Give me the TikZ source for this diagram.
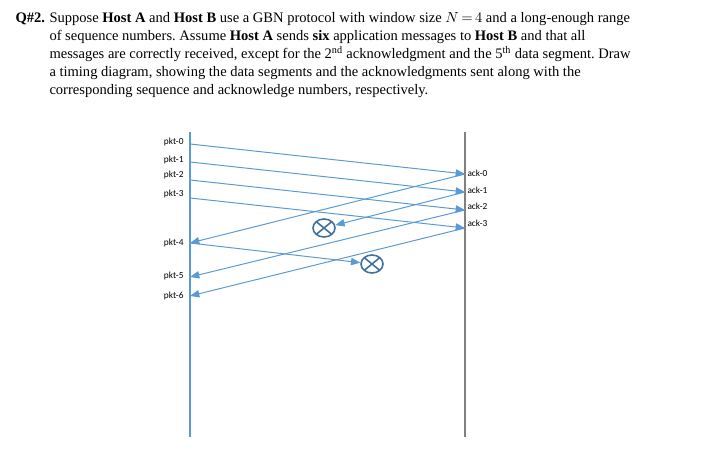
\documentclass[tikz,border=0pt]{standalone}
\usepackage{fontspec}
\setmainfont{Liberation Serif}
\newfontfamily\lblfont{Carlito}
\usetikzlibrary{arrows.meta,shapes.geometric}

\definecolor{linkblue}{RGB}{91,155,213}
\definecolor{lostblue}{RGB}{65,113,156}
\definecolor{hostgray}{RGB}{128,128,128}

\tikzset{every picture/.style={line width=0.75pt}}
\tikzset{
  seg/.style={draw=linkblue, line width=0.75pt, -{Triangle[length=7pt,width=5.5pt]}},
  pktlbl/.style={font=\lblfont\fontsize{7}{8}\selectfont, anchor=east, inner sep=0pt},
  acklbl/.style={font=\lblfont\fontsize{7}{8}\selectfont, anchor=west, inner sep=0pt},
  lost/.style={ellipse, draw=lostblue, line width=1.2pt, minimum width=16.5pt, minimum height=13.5pt, inner sep=0pt,
    path picture={\draw[lostblue, line width=1.2pt] (path picture bounding box.north west) -- (path picture bounding box.south east) (path picture bounding box.south west) -- (path picture bounding box.north east);}}
}

\begin{document}
\frenchspacing
\begin{tikzpicture}[x=0.75pt,y=0.75pt,yscale=-1,xscale=1]
\path[use as bounding box] (0,0) rectangle (726,459);

% Text Node
\node[anchor=north west, inner sep=0pt, font=\fontsize{10.9}{13.6}\selectfont] (question) at (15,9) {%
\begin{tabular}{@{}p{25.5pt}@{}l@{}}
\textbf{Q\#2.} & Suppose \textbf{Host A} and \textbf{Host B} use a GBN protocol with window size $N\,{=}\,4$ and a long-enough range\\
 & of sequence numbers. Assume \textbf{Host A} sends \textbf{six} application messages to \textbf{Host B} and that all\\
 & messages are correctly received, except for the 2\textsuperscript{nd} acknowledgment and the 5\textsuperscript{th} data segment. Draw\\
 & a timing diagram, showing the data segments and the acknowledgments sent along with the\\
 & corresponding sequence and acknowledge numbers, respectively.
\end{tabular}};

%Straight Lines: host timelines
\coordinate (Atop) at (190,132);
\coordinate (Abot) at (190,437);
\coordinate (Btop) at (465,132);
\coordinate (Bbot) at (465,437);
\draw[linkblue, line width=1.1pt] (Atop) -- (Abot);
\draw[hostgray, line width=1.5pt] (Btop) -- (Bbot);

% send points on host A
\coordinate (s0) at (190,144);
\coordinate (s1) at (190,162);
\coordinate (s2) at (190,180);
\coordinate (s3) at (190,198);
\coordinate (s4) at (190,243);
\coordinate (s5) at (190,277);
\coordinate (s6) at (190,296);
% receive points on host B
\coordinate (r0) at (465,174);
\coordinate (r1) at (465,192);
\coordinate (r2) at (465,210);
\coordinate (r3) at (465,228);

% Text Node
\node[pktlbl] (pkt0) at (184,142) {pkt-0};
\node[pktlbl] (pkt1) at (184,160) {pkt-1};
\node[pktlbl] (pkt2) at (184,175) {pkt-2};
\node[pktlbl] (pkt3) at (184,194) {pkt-3};
\node[pktlbl] (pkt4) at (184,243) {pkt-4};
\node[pktlbl] (pkt5) at (184,276) {pkt-5};
\node[pktlbl] (pkt6) at (184,296) {pkt-6};
% Text Node
\node[acklbl] (ack0) at (467,173) {ack-0};
\node[acklbl] (ack1) at (467,190) {ack-1};
\node[acklbl] (ack2) at (467,206) {ack-2};
\node[acklbl] (ack3) at (467,223) {ack-3};

%Shape: lost markers
\node[lost] (lost1) at (324,228) {};
\node[lost] (lost2) at (372,264) {};

%Straight Lines: data segments
\draw[seg] (s0) -- (r0);
\draw[seg] (s1) -- (r1);
\draw[seg] (s2) -- (r2);
\draw[seg] (s3) -- (r3);
\draw[seg] (s4) -- (lost2);
%Straight Lines: acknowledgments
\draw[seg] (r0) -- (s4);
\draw[seg] (r1) -- (lost1);
\draw[seg] (r2) -- (s5);
\draw[seg] (r3) -- (s6);

\end{tikzpicture}
\end{document}
